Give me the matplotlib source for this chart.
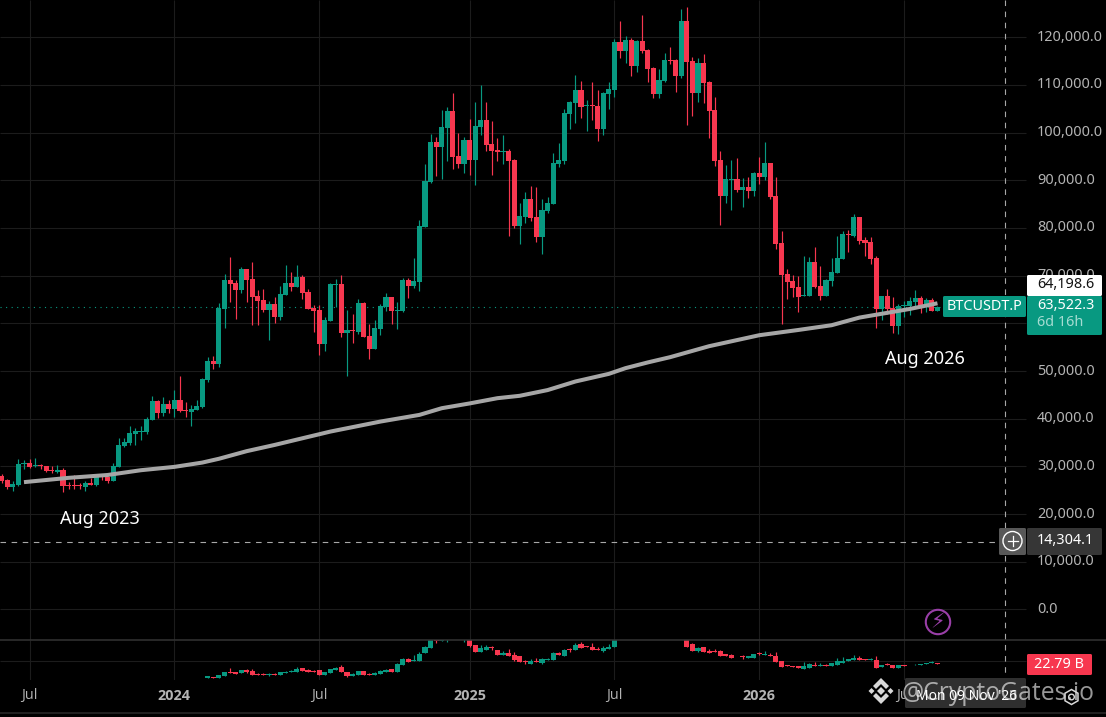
import numpy as np
import matplotlib
matplotlib.use('Agg')
import matplotlib.pyplot as plt
from matplotlib.patches import Circle, FancyBboxPatch, Polygon, RegularPolygon
from matplotlib.transforms import blended_transform_factory

plt.rcParams['font.family'] = ['Noto Sans', 'DejaVu Sans']

# weekly BTCUSDT.P candles, price in thousands
price_open = [
    28.0,27.1,25.7,26.2,30.5,30.7,30.0,30.3,30.1,29.3,
    28.9,29.2,26.1,26.1,26.0,25.7,26.5,26.1,27.9,27.8,
    26.9,29.9,34.3,34.9,36.8,37.2,37.2,39.7,43.7,41.2,
    43.1,42.0,43.9,41.8,41.4,41.8,42.4,48.1,52.1,51.5,
    63.0,69.1,68.4,67.0,71.4,69.3,65.7,64.9,62.8,64.0,
    61.3,65.9,68.4,67.6,69.7,66.6,63.2,62.8,55.6,60.5,
    68.0,68.2,58.0,58.6,58.2,64.2,57.3,54.6,58.8,63.4,
    65.5,62.6,62.6,69.1,67.8,68.6,80.2,89.6,98.0,97.0,
    100.9,104.5,95.1,93.4,98.4,94.2,101.2,102.6,97.6,96.3,
    95.9,96.1,94.2,80.4,82.3,86.0,82.3,78.1,83.5,85.0,
    93.4,94.0,103.9,106.2,108.9,105.6,105.8,105.5,100.7,108.1,
    108.9,119.0,117.1,119.4,113.9,119.2,117.3,113.5,108.1,110.8,
    115.2,115.2,111.8,123.4,115.0,108.3,114.6,110.6,104.7,94.2,
    86.7,90.0,90.2,87.9,88.6,87.7,91.5,90.7,93.6,86.7,
    76.8,70.3,68.9,67.6,65.7,65.7,72.8,67.8,65.7,68.9,
    70.5,73.5,78.7,78.3,82.3,77.5,77.0,73.7,63.0,65.7,
    63.2,59.4,63.6,63.6,64.5,65.3,63.4,64.9,62.6]
price_high = [
    28.4,27.3,26.9,31.5,31.3,31.5,31.7,30.5,30.1,30.1,
    30.3,29.6,26.7,28.2,26.6,26.9,27.6,28.4,28.5,28.0,
    30.7,35.9,35.9,38.5,38.0,38.5,40.3,44.7,43.9,44.5,
    43.9,46.0,48.9,43.5,42.9,43.9,48.5,52.9,53.1,64.3,
    70.3,73.9,69.1,71.8,71.4,72.8,67.0,67.2,64.7,65.5,
    67.8,72.2,70.8,72.2,70.1,67.2,63.8,63.8,61.3,68.4,
    69.3,70.1,62.8,61.9,65.1,64.4,59.8,60.7,64.0,66.3,
    65.5,64.4,69.5,69.5,73.7,81.6,93.4,99.7,99.1,104.7,
    105.3,108.3,99.9,99.1,102.8,106.4,110.0,106.4,102.4,98.8,
    99.5,96.5,94.4,85.2,87.5,88.8,88.6,86.0,86.5,95.7,
    97.8,104.9,106.6,112.0,110.8,106.8,110.6,108.9,108.5,110.6,
    119.6,123.4,120.2,119.8,119.4,124.6,117.5,113.7,113.3,116.7,
    117.9,115.4,125.9,126.3,115.8,115.6,116.5,110.8,107.4,96.1,
    93.2,94.2,94.6,90.5,90.7,91.7,94.9,98.0,93.6,90.7,
    79.3,71.4,70.1,69.9,74.1,73.9,76.0,72.0,69.3,73.7,
    78.3,79.3,79.5,82.9,82.3,78.1,78.1,74.1,65.7,67.2,
    65.5,64.0,64.7,65.5,67.0,65.7,65.3,65.3,63.6]
price_low = [
    26.6,25.2,24.9,25.9,29.4,29.6,29.9,29.4,28.8,28.6,
    28.7,24.7,25.2,25.2,25.2,24.9,26.1,25.9,27.1,26.5,
    26.9,29.9,34.1,34.5,34.5,35.5,36.8,39.7,40.1,40.6,
    41.2,40.3,41.4,40.3,38.5,41.8,42.2,47.7,50.4,50.8,
    59.0,64.5,60.9,66.3,64.5,59.6,59.6,62.4,56.5,60.1,
    60.7,65.9,66.8,67.6,65.1,63.0,58.2,53.3,54.2,60.5,
    63.5,57.1,48.9,55.9,57.7,57.1,52.5,54.6,57.5,62.6,
    59.8,58.8,62.4,65.3,67.4,66.8,80.2,89.4,90.9,90.2,
    94.0,92.3,92.6,91.5,91.1,89.0,99.5,96.1,91.1,94.0,
    93.4,78.3,80.0,76.6,81.0,81.4,77.0,74.5,83.1,85.0,
    92.8,93.4,100.7,102.0,103.0,100.3,102.6,98.2,99.5,104.9,
    107.4,115.6,114.6,111.8,112.7,116.7,110.6,107.2,107.2,110.6,
    114.4,108.5,111.4,101.6,103.5,106.4,106.2,98.8,93.0,80.6,
    85.2,83.7,87.5,84.4,86.3,86.7,89.2,90.0,86.0,75.6,
    59.8,65.1,65.5,62.4,65.7,65.7,67.4,64.9,65.7,67.8,
    70.5,73.5,74.9,78.1,76.6,74.1,72.4,59.0,60.7,61.9,
    58.0,57.7,61.3,61.7,63.4,62.1,62.4,62.6,62.6]
price_close = [
    26.9,25.7,26.3,30.5,30.7,29.9,30.2,30.1,29.1,29.1,
    29.2,25.9,25.9,25.9,25.8,26.5,26.1,28.0,27.8,26.9,
    30.1,34.5,35.1,37.0,37.4,37.4,39.9,43.7,41.2,43.1,
    42.0,43.9,41.6,41.6,42.0,42.6,48.3,52.1,51.5,63.2,
    69.1,68.2,67.0,71.4,69.1,65.5,64.7,62.8,64.0,61.3,
    66.1,68.4,67.6,69.7,66.3,63.0,62.6,55.6,60.7,68.2,
    68.2,58.0,58.6,58.4,64.2,57.1,54.6,59.0,63.6,65.5,
    62.6,62.8,69.1,67.8,68.9,80.4,89.8,98.0,97.0,101.2,
    104.5,94.9,93.4,98.4,94.2,101.4,102.6,97.4,96.1,95.9,
    96.1,94.0,80.4,82.5,86.0,82.1,78.1,83.7,85.2,93.6,
    94.2,104.1,106.4,108.9,105.3,105.8,105.6,100.7,108.3,109.1,
    119.0,117.1,119.4,113.9,119.2,117.1,113.3,108.1,111.0,115.2,
    115.0,111.8,123.4,114.8,108.3,114.6,110.4,104.5,94.0,86.7,
    90.2,90.2,87.9,88.6,87.7,91.5,90.7,93.6,86.5,76.6,
    70.1,68.6,67.4,65.5,65.9,72.8,67.6,65.7,69.1,70.7,
    73.7,78.7,78.5,82.3,77.2,76.8,73.5,63.0,65.7,63.0,
    59.4,63.6,63.8,64.7,65.3,63.4,64.9,62.6,63.52]

# moving average, read at some weeks only
ma_week = [4,12,19,25,31,36,39,44,49,54,59,68,75,79,84,89,93,98,103,109,112,116,120,127,136,143,149,154,159,163,168]
ma_value = [26.7,27.6,28.2,29.2,29.9,30.8,31.6,33.2,34.5,35.9,37.3,39.4,40.8,42.2,43.2,44.3,44.8,46.0,47.8,49.4,50.6,
            51.8,52.9,55.2,57.5,58.6,59.6,61.2,62.2,63.0,64.2]

# lower pane, in billions. weeks above the top of the pane are not listed
vol_week = list(range(37, 81)) + list(range(83, 111)) + list(range(123, 169))
vol_open = [
    11.6,12.4,11.6,13.2,16.4,16.4,15.6,18,17.2,15.1,15.1,14.3,15.1,14,15.6,16.4,16.4,19.6,17.7,17.2,18,14,
    15.6,18,20.4,16.4,13.2,14,17.2,14.8,14,14.8,16.4,18.3,16.4,22,26.8,25.2,25.2,31.6,35.6,43,41.2,44,
    44,44,38,32.4,34,36,34,30,31.6,30,29.2,24.7,22.8,25.2,23.6,25.7,26,31.6,29.2,34.5,34,38.8,37.2,36.4,34.8,33.2,34.8,36.4,
    44,38.8,33.2,36.4,33.2,33.2,33.2,30.8,30,28.7,28.9,27.6,27.6,31.6,30,30,29.2,25.2,22,21.2,21.2,18.8,19.6,
    22,21.2,22,21.2,22,23.6,25.2,26,27.1,26.8,26,26,20.4,22.8,21.5,19.6,22,21.5,21.5,21.7,22.3,23.1,23.6]
vol_close = [
    13.2,11.6,14,16.4,15.6,14.8,18,16.4,14,14.3,14.3,14.8,14.3,16.4,16.4,17.2,18.8,17.2,16.4,16.4,14,16.4,
    18.8,19.6,16.4,13.2,14.8,17.2,14,14,15.6,17.2,18,16.4,22.8,26.8,24.4,26,30.8,36.4,43,41.2,43,45,
    45,37.2,32.4,35.6,36.4,35.2,30,31.6,29.2,26,24.4,23.9,25.2,24.4,26.5,26.5,31.6,30,34,33.5,38,35.6,36.4,34,34,35.6,36.4,43,
    36.4,33.2,35.6,32.4,31.6,32.4,29.2,28.7,27.6,29.2,27.9,28.9,30.8,30.8,30.8,29.2,24.4,20.4,20.7,20.4,19.6,21.2,22.8,
    21.2,22,21.2,23.6,25.2,25.2,26.8,27.6,26,26,26.8,19.6,22,22,19.6,22,21.2,22,22,22.3,23.1,24.1,22.79]
vol_high = [
    13.2,12.4,14,16.4,19.6,16.4,18,18.8,18.8,15.6,15.6,15.9,15.6,16.4,17.2,18,20.4,19.6,18.8,18,18,16.4,
    18.8,20.4,22,16.4,15.6,17.2,17.2,15.6,16.4,18,18.8,18.3,23.6,27.6,27.6,30,32.4,37.2,44,44,44,46,
    46,45,38,38,38,37.2,34,33.2,34.8,32.4,29.2,25.7,26.8,27.6,27,27,32.4,32.4,34.8,35.3,39.6,40.4,37.2,39.6,36.4,37.2,38.8,44,
    45,39.6,36.4,36.4,34.8,34.8,34,30.8,30.8,29.2,29.7,28.9,30.8,32.4,33.2,31.6,32.4,25.2,22,21.2,21.2,24.4,23.6,
    24.4,23.6,22.8,23.6,27.6,28.4,26.8,30,29.2,26.8,27.6,29.2,22,23.6,21.5,22,22,22,22.8,23,23.6,25,23.6]
vol_low = [
    11.6,11.6,11.6,13.2,15.6,14.8,15.6,15.6,14,14,14,13.5,14,14,15.6,16.4,16.4,17.2,16.4,16.4,14,14,
    15.6,18,16.4,12.4,13.2,14,14,14,14,14.8,16.4,16.4,16.4,22,24.4,25.2,25.2,31.6,35.6,39.6,41.2,40.4,
    40.4,36.4,32,32.4,34,34,30,30,29.2,25.2,24.4,22.8,22.8,24.4,23,25.7,26,30,29.2,32.4,34,35.6,36.4,34,34,32.4,34.8,36.4,
    36.4,33.2,32.4,32.4,31.6,32.4,29.2,28.7,27.6,28.7,26.8,27.6,27.6,30,30,29.2,24.4,20.4,20.7,20.4,19.6,18.8,19.6,
    21.2,21.2,21.2,21.2,22,23.6,25.2,26,26,26,26,19.6,20.4,22,19.6,19.6,21.2,21.5,21.5,21.7,22.3,23.1,22.79]

price_ticks = [120000,110000,100000,90000,80000,70000,60000,50000,40000,30000,20000,10000,0]
time_ticks = [5, 31, 57, 84, 110, 136, 162]
time_labels = ['Jul', '2024', 'Jul', '2025', 'Jul', '2026', 'Jul']
time_bold = [False, True, False, True, False, True, False]
last_price = 63522.3
ma_last = '64,198.6'
cross_price = '14,304.1'
cross_date = "Mon 09 Nov '26"
vol_last = '22.79 B'

GREEN = '#089981'
RED = '#f7374f'
GRID = '#1c1c1c'
LABEL = '#b4b4b4'
W, H = 1106, 717

# one week is 5.57 px, first candle sits at x=1.7
week_lim = ((0 - 1.7) / 5.57, (W - 1.7) / 5.57)
grid_end = (1026 - 1.7) / 5.57

fig = plt.figure(figsize=(W / 100, H / 100), dpi=100, facecolor='black')
ax = fig.add_axes([0, 1 - 639.5 / H, 1, 639.5 / H], facecolor='black')
ax_vol = fig.add_axes([0, 1 - 680 / H, 1, 40.5 / H], facecolor='black')
ov = fig.add_axes([0, 0, 1, 1], facecolor='none')
ov.set_xlim(0, W)
ov.set_ylim(H, 0)
for a in (ax, ax_vol, ov):
    a.axis('off')


def draw_candles(a, x, o, h, l, c):
    x, o, h, l, c = [np.array(v, dtype=float) for v in (x, o, h, l, c)]
    colors = np.where(c >= o, GREEN, RED)
    a.vlines(x, l, h, colors=colors, lw=0.85, zorder=3)
    a.bar(x, np.abs(c - o), bottom=np.minimum(o, c), width=0.92, color=colors, lw=0, zorder=4)


weeks = np.arange(len(price_open))
ax.set_xlim(*week_lim)
ax.set_ylim(-6290, 127780)
ax.hlines(price_ticks, week_lim[0], grid_end, colors=GRID, lw=0.8, zorder=1)
ax.vlines(time_ticks, -6290, 127780, colors=GRID, lw=0.8, zorder=1)
draw_candles(ax, weeks, np.array(price_open) * 1000, np.array(price_high) * 1000,
             np.array(price_low) * 1000, np.array(price_close) * 1000)
ax.plot(ma_week, np.array(ma_value) * 1000, color='#a6a6a6', lw=2.9, zorder=5, solid_capstyle='butt')
ax.hlines(last_price, week_lim[0], grid_end, colors=GREEN, lw=0.8, linestyles=(0, (1, 4)), zorder=2)

ax_vol.set_xlim(*week_lim)
ax_vol.set_ylim(10, 42)
ax_vol.hlines(25, week_lim[0], grid_end, colors=GRID, lw=0.8, zorder=1)
ax_vol.vlines(time_ticks, 10, 42, colors=GRID, lw=0.8, zorder=1)
draw_candles(ax_vol, vol_week, vol_open, vol_high, vol_low, vol_close)

# pane borders and crosshair
ov.plot([0, W], [639.5, 639.5], color='#333333', lw=1.1)
ov.plot([0, W], [712.5, 712.5], color='#2a2a2a', lw=1.1)
ov.plot([0, 999], [541.5, 541.5], color='#a8a8a8', lw=0.8, dashes=(5, 5))
ov.plot([1004.5, 1004.5], [0, 678], color='#a8a8a8', lw=0.8, dashes=(5, 5), zorder=6)

# price scale labels
price_trans = blended_transform_factory(ov.transData, ax.transData)
for p in price_ticks:
    ov.text(1037, p, f'{p:,.1f}', transform=price_trans, color=LABEL, fontsize=10.4,
            ha='left', va='center', zorder=2)

# time axis labels
time_trans = blended_transform_factory(ax.transData, ov.transData)
for t, lab, bold in zip(time_ticks, time_labels, time_bold):
    ov.text(t, 695.5, lab, transform=time_trans, color=LABEL, fontsize=10.4,
            family='Open Sans', ha='center', va='center',
            fontweight='bold' if bold else 'normal', zorder=2)


def box(x0, y0, x1, y1, color, zorder=7):
    ov.add_patch(FancyBboxPatch((x0, y0), x1 - x0, y1 - y0, boxstyle='round,pad=0,rounding_size=1.5',
                                fc=color, ec='none', zorder=zorder))


# right side flags
box(1027, 275, 1102, 296, 'white')
ov.text(1037, 285, ma_last, color='#131313', fontsize=10.4, va='center', zorder=8)
box(1027, 296, 1102, 335, GREEN)
ov.text(1037, 305.5, f'{last_price:,.1f}', color='white', fontsize=10.4, va='center', zorder=8)
ov.text(1037, 323, '6d 16h', color='#a5dcd2', fontsize=10.4, va='center', zorder=8)
box(943, 296, 1026, 317, GREEN)
ov.text(947, 306, 'BTCUSDT.P', color='white', fontsize=10.4, va='center', zorder=8)
box(1027, 528, 1102, 555, '#363636', zorder=1)
ov.text(1037, 541, cross_price, color='white', fontsize=10.4, va='center', zorder=8)
box(999, 528, 1026, 555, '#585858')
ov.add_patch(Circle((1012.5, 541), 9.5, fc='none', ec='white', lw=1, zorder=8))
ov.plot([1007.5, 1017.5], [541, 541], color='white', lw=0.9, zorder=8)
ov.plot([1012.5, 1012.5], [536, 546], color='white', lw=0.9, zorder=8)
box(1027, 654, 1092, 675, '#f7374f')
ov.text(1059.5, 664.5, vol_last, color='white', fontsize=10.4, ha='center', va='center', zorder=8)
box(905, 678, 1026, 708, '#2f2f2f', zorder=7)
ov.text(967, 696, cross_date, color='white', fontsize=10, ha='center', va='center', zorder=8)

# annotations
ov.text(100, 518.5, 'Aug 2023', color='white', fontsize=13, ha='center', va='center', zorder=8)
ov.text(924.5, 359, 'Aug 2026', color='white', fontsize=13, ha='center', va='center', zorder=8)

# purple flash icon
ov.add_patch(Circle((938, 622), 12.2, fc='none', ec='#9a3fa8', lw=1.5, zorder=8))
ov.text(938, 622, '\u26a1', color='#9a3fa8', fontsize=15, family='DejaVu Sans', ha='center', va='center', zorder=8)

# watermark
ov.text(902, 693, '@CryptoGates.io', color='white', alpha=0.6, fontsize=17.8, family='Open Sans',
        ha='left', va='center', zorder=9)
wm = '#d8d8d8'
lx, ly = 881, 691
for dx, dy, r in [(0, 0, 4), (-9.5, 0, 3), (9.5, 0, 3)]:
    ov.add_patch(Polygon([(lx + dx, ly + dy - r), (lx + dx + r, ly + dy), (lx + dx, ly + dy + r), (lx + dx - r, ly + dy)],
                         fc=wm, ec='none', zorder=9))
for s in (1, -1):
    pts = [(0, -13), (8, -5), (5, -2), (0, -7), (-5, -2), (-8, -5)]
    ov.add_patch(Polygon([(lx + px, ly + s * py) for px, py in pts], fc=wm, ec='none', zorder=9))
ov.add_patch(RegularPolygon((1071.5, 697), 6, radius=7.5, fc='none', ec=wm, lw=1.1, zorder=9))
ov.add_patch(Circle((1071.5, 697), 2.8, fc='none', ec=wm, lw=1, zorder=9))

fig.savefig('out.png', dpi=100, facecolor='black')
